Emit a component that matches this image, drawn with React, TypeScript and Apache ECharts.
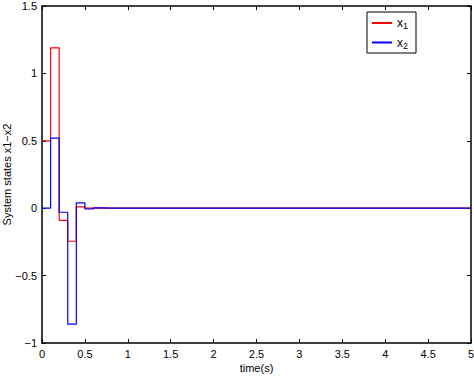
import React, { useEffect, useRef } from "react";
import * as echarts from "echarts";

const timeS = [0, 0.1, 0.2, 0.3, 0.4, 0.5, 0.6, 0.7, 0.8, 5];
const x1Values = [0.5, 1.19, -0.09, -0.245, 0.01, 0.0, 0.002, 0.0, 0.0, 0.0];
const x2Values = [0.0, 0.52, -0.03, -0.86, 0.04, -0.006, 0.003, 0.0, 0.0, 0.0];
const xTicks = ["0", "0.5", "1", "1.5", "2", "2.5", "3", "3.5", "4", "4.5", "5"];
const yTicks = ["−1", "−0.5", "0", "0.5", "1", "1.5"];

const FONT = "Liberation Sans, Arial, sans-serif";

export default function App() {
  const ref = useRef<HTMLDivElement>(null);
  useEffect(() => {
    if (!ref.current) return;
    const chart = echarts.init(ref.current, undefined, { renderer: "svg" });
    const pair = (vals: number[]) => timeS.map((t, i) => [t, vals[i]]);
    const axisLine = { show: true, onZero: false, lineStyle: { color: "#000", width: 1.5 } };
    const tick = { show: true, inside: true, length: 4, lineStyle: { color: "#000", width: 1 } };
    chart.setOption({
      animation: false,
      backgroundColor: "#fff",
      grid: { left: 42, right: 3, top: 6, bottom: 34, containLabel: false, outerBoundsMode: "none" },
      legend: {
        orient: "vertical",
        left: 367,
        top: 12,
        width: 50,
        itemWidth: 20,
        itemHeight: 2,
        itemGap: 6,
        padding: [5, 8, 3, 5],
        borderColor: "#000",
        borderWidth: 1,
        backgroundColor: "#fff",
        icon: "rect",
        data: ["x1", "x2"],
        formatter: (name: string) => (name === "x1" ? "{a|x}{b|1}" : "{a|x}{b|2}"),
        textStyle: {
          fontFamily: FONT,
          rich: {
            a: { fontSize: 12, color: "#000", fontFamily: FONT },
            b: { fontSize: 9, color: "#000", fontFamily: FONT, padding: [6, 0, 0, 0] },
          },
        },
      },
      xAxis: [
        {
          type: "value",
          min: 0,
          max: 5,
          interval: 0.5,
          position: "bottom",
          axisLine,
          axisTick: tick,
          splitLine: { show: false },
          axisLabel: {
            color: "#000",
            fontSize: 11,
            fontFamily: FONT,
            margin: 5,
            formatter: (v: number) => xTicks[Math.round(v / 0.5)] ?? "",
          },
          name: "time(s)",
          nameLocation: "middle",
          nameGap: 19,
          nameMoveOverlap: false,
          nameTextStyle: { color: "#000", fontSize: 11, fontFamily: FONT },
        },
        {
          type: "value",
          min: 0,
          max: 5,
          interval: 0.5,
          position: "top",
          axisLine,
          axisTick: tick,
          axisLabel: { show: false },
          splitLine: { show: false },
        },
      ],
      yAxis: [
        {
          type: "value",
          min: -1,
          max: 1.5,
          interval: 0.5,
          position: "left",
          axisLine,
          axisTick: tick,
          splitLine: { show: false },
          axisLabel: {
            color: "#000",
            fontSize: 11,
            fontFamily: FONT,
            margin: 5,
            formatter: (v: number) => yTicks[Math.round((v + 1) / 0.5)] ?? "",
          },
          name: "System states x1−x2",
          nameLocation: "middle",
          nameGap: 30,
          nameMoveOverlap: false,
          nameTextStyle: { color: "#000", fontSize: 11, fontFamily: FONT },
        },
        {
          type: "value",
          min: -1,
          max: 1.5,
          interval: 0.5,
          position: "right",
          axisLine,
          axisTick: tick,
          axisLabel: { show: false },
          splitLine: { show: false },
        },
      ],
      series: [
        {
          name: "x1",
          type: "line",
          step: "end",
          data: pair(x1Values),
          showSymbol: false,
          symbol: "none",
          color: "#ff0000",
          lineStyle: { color: "#ff0000", width: 1.2 },
        },
        {
          name: "x2",
          type: "line",
          step: "end",
          data: pair(x2Values),
          showSymbol: false,
          symbol: "none",
          color: "#0000ff",
          lineStyle: { color: "#0000ff", width: 1.2 },
        },
      ],
    });
    return () => chart.dispose();
  }, []);
  return <div ref={ref} style={{ width: 474, height: 377, position: "absolute", left: 0, top: 0 }} />;
}
